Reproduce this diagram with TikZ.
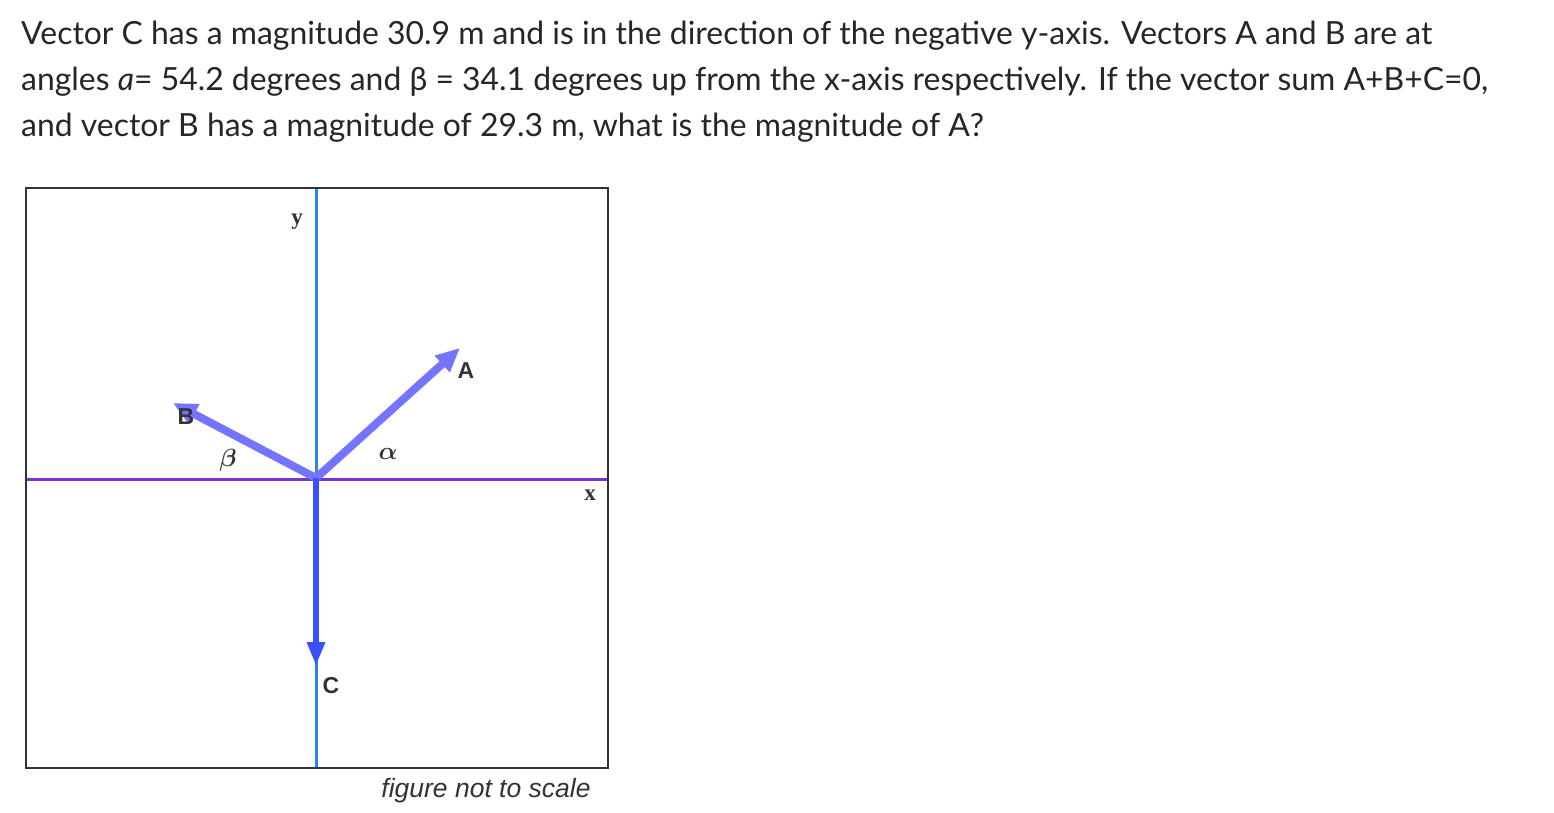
\documentclass[tikz,border=0pt]{standalone}
\usepackage{fontspec}
\setmainfont{Lato}
\newfontfamily\arialf{Liberation Sans}
\newfontfamily\timesf{Liberation Serif}
\usetikzlibrary{arrows.meta}
\definecolor{yaxis}{HTML}{2A86E0}
\definecolor{xaxis}{HTML}{7A32D0}
\definecolor{vecab}{HTML}{7474FF}
\definecolor{vecc}{HTML}{3A50FF}
\definecolor{boxc}{HTML}{333333}
\begin{document}
\begin{tikzpicture}[x=1pt,y=-1pt,
  qtext/.style={anchor=base west,inner sep=0pt,font=\fontsize{31.9}{36}\selectfont,text=black!85},
  vlab/.style={inner sep=0pt,font=\arialf\bfseries\fontsize{23}{26}\selectfont,text=black!80},
  axlab/.style={inner sep=0pt,font=\timesf\bfseries\fontsize{23}{25}\selectfont,text=black!80},
  anglab/.style={inner sep=0pt,font=\mathversion{bold}\fontsize{27}{29}\selectfont,text=black!80},
  vecAB/.style={draw=vecab,line width=8pt,-{Triangle[length=24pt,width=21pt]}},
  vecC/.style={draw=vecc,line width=6.5pt,-{Triangle[length=24pt,width=17pt]}}]
\useasboundingbox (0,0) rectangle (1554,813);
\fill[white] (0,0) rectangle (1554,813);
% question text
\node[qtext] (l1) at (21,45) {Vector C has a magnitude 30.9 m and is in the direction of the negative y-axis. Vectors A and B are at};
\node[qtext] (l2) at (21,91) {angles \textit{a}= 54.2 degrees and β = 34.1 degrees up from the x-axis respectively. If the vector sum A+B+C=0,};
\node[qtext] (l3) at (21,137) {and vector B has a magnitude of 29.3 m, what is the magnitude of A?};
% figure
\coordinate (bl) at (26,768);
\coordinate (tr) at (608,188);
\coordinate (ytop) at (316,188);
\coordinate (ybot) at (316,768);
\coordinate (xl) at (26,479);
\coordinate (xr) at (608,479);
\coordinate (o) at (316,478);
\coordinate (atip) at (460,348);
\coordinate (btip) at (173,403);
\coordinate (ctip) at (316,666);
\draw[yaxis,line width=3pt] (ytop) -- (ybot);
\draw[xaxis,line width=3pt] (xl) -- (xr);
\draw[vecAB] (o) -- (atip);
\draw[vecAB] (o) -- (btip);
\draw[vecC] (o) -- (ctip);
\draw[boxc,line width=2.4pt] (bl) rectangle (tr);
\node[vlab] (A) at (466,371) {A};
\node[vlab] (B) at (186,417) {B};
\node[vlab] (C) at (331,686) {C};
\node[axlab] (y) at (297,222) {y};
\node[axlab] (x) at (590,495) {x};
\node[anglab] (beta) at (228,460) {$\beta$};
\node[anglab] (alpha) at (388,454) {$\alpha$};
\node[inner sep=0pt,font=\arialf\itshape\fontsize{26.5}{29}\selectfont,text=black!80] (note) at (486,791) {figure not to scale};
\end{tikzpicture}
\end{document}
